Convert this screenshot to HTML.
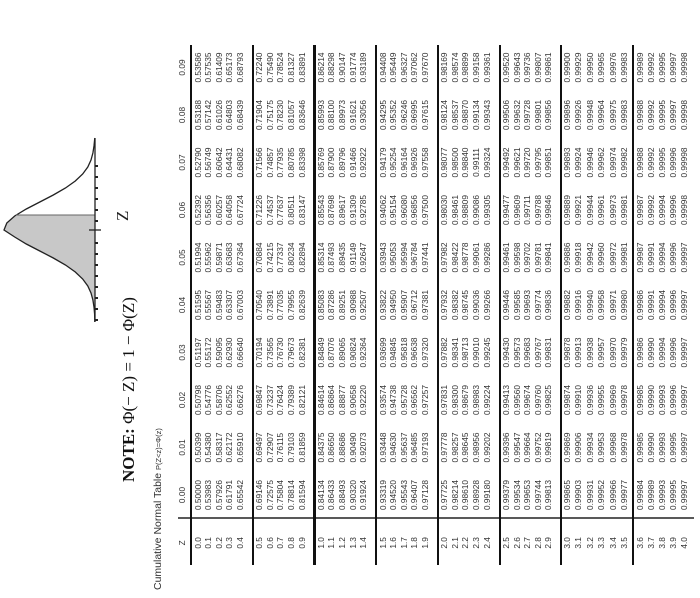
<!DOCTYPE html>
<html><head><meta charset="utf-8"><style>
html,body{margin:0;padding:0;background:#fff;}
body{width:700px;height:598px;overflow:hidden;position:relative;}
#f{position:absolute;left:0;top:0;width:598px;height:700px;transform-origin:0 0;transform:translate(0,598px) rotate(-90deg);}
.g{position:absolute;left:31px;width:560px;}
.r{height:10.6px;line-height:10.6px;white-space:nowrap;font:8.3px "Liberation Sans",sans-serif;color:#333;}
.g6 .r{height:11.5px;line-height:11.5px;}
.g7 .r{height:11px;line-height:11px;}
.r b,.r i{display:inline-block;font-weight:normal;font-style:normal;text-align:center;}
.r b{width:48.25px;}
.r i{width:47.5px;}
.hl{position:absolute;left:33px;width:520px;height:2.4px;background:#111;}
</style></head><body>
<div id="f">
<svg style="position:absolute;left:0;top:0" width="598" height="700">
<polygon fill="#c8c8c8" points="276,95 284,94.6 291,94 298,92.9 305,91 312,87.8 319,82.7 326,75.3 333,65.5 340,53.3 347,39.8 354,26.3 361,14.7 368,4 375,6.8 383,16.2 383,95"/>
<polyline fill="none" stroke="#222" stroke-width="1.3" points="276,94.8 284,94.6 291,94 298,92.9 305,91 312,87.8 319,82.7 326,75.3 333,65.5 340,53.3 347,39.8 354,26.3 361,14.7 368,4 375,6.8 382,14.7 389,26.3 396,39.8 403,53.3 410,65.5 417,75.3 424,82.7 431,87.8 438,91 445,92.9 452,94 460,94.8"/>
<line x1="383" y1="16" x2="383" y2="95" stroke="#666" stroke-width="1"/>
<line x1="276" y1="95" x2="460" y2="95" stroke="#222" stroke-width="1.3"/>
<line x1="368" y1="89" x2="368" y2="101" stroke="#222" stroke-width="1.3"/>
<g fill="#222">
<rect x="277" y="95" width="2" height="3"/><rect x="288" y="95" width="2" height="3"/><rect x="299" y="95" width="2" height="3"/><rect x="310" y="95" width="2" height="3"/><rect x="321" y="95" width="2" height="3"/><rect x="332" y="95" width="2" height="3"/><rect x="343" y="95" width="2" height="3"/><rect x="354" y="95" width="2" height="3"/><rect x="376" y="95" width="2" height="3"/><rect x="387" y="95" width="2" height="3"/><rect x="398" y="95" width="2" height="3"/><rect x="409" y="95" width="2" height="3"/><rect x="420" y="95" width="2" height="3"/><rect x="431" y="95" width="2" height="3"/>
</g>
<text x="377" y="128" font-family="Liberation Serif,serif" font-size="17" fill="#222">Z</text>
<text x="116" y="134" font-family="Liberation Serif,serif" font-size="17" fill="#111"><tspan font-weight="bold">NOTE:</tspan> Φ(− Z) = 1 − Φ(Z)</text>
<text x="8" y="161" font-family="Liberation Sans,sans-serif" font-size="10.5" fill="#333">Cumulative Normal Table <tspan font-size="7.5">P(Z&lt;z)=Φ(z)</tspan></text>
<line x1="80" y1="178" x2="80" y2="694" stroke="#222" stroke-width="1.4"/>
</svg>
<div class="hl" style="top:190px"></div><div class="hl" style="top:251.7px"></div><div class="hl" style="top:313.4px"></div><div class="hl" style="top:375.1px"></div><div class="hl" style="top:436.8px"></div><div class="hl" style="top:498.5px"></div><div class="hl" style="top:559.5px"></div><div class="hl" style="top:632px"></div>
<div class="g" style="top:177px"><div class="r"><b>Z</b><i>0.00</i><i>0.01</i><i>0.02</i><i>0.03</i><i>0.04</i><i>0.05</i><i>0.06</i><i>0.07</i><i>0.08</i><i>0.09</i></div></div>
<div class="g" style="top:192.5px">
<div class="r"><b>0.0</b><i>0.50000</i><i>0.50399</i><i>0.50798</i><i>0.51197</i><i>0.51595</i><i>0.51994</i><i>0.52392</i><i>0.52790</i><i>0.53188</i><i>0.53586</i></div>
<div class="r"><b>0.1</b><i>0.53983</i><i>0.54380</i><i>0.54776</i><i>0.55172</i><i>0.55567</i><i>0.55962</i><i>0.56356</i><i>0.56749</i><i>0.57142</i><i>0.57535</i></div>
<div class="r"><b>0.2</b><i>0.57926</i><i>0.58317</i><i>0.58706</i><i>0.59095</i><i>0.59483</i><i>0.59871</i><i>0.60257</i><i>0.60642</i><i>0.61026</i><i>0.61409</i></div>
<div class="r"><b>0.3</b><i>0.61791</i><i>0.62172</i><i>0.62552</i><i>0.62930</i><i>0.63307</i><i>0.63683</i><i>0.64058</i><i>0.64431</i><i>0.64803</i><i>0.65173</i></div>
<div class="r"><b>0.4</b><i>0.65542</i><i>0.65910</i><i>0.66276</i><i>0.66640</i><i>0.67003</i><i>0.67364</i><i>0.67724</i><i>0.68082</i><i>0.68439</i><i>0.68793</i></div>
</div>
<div class="g" style="top:254.2px">
<div class="r"><b>0.5</b><i>0.69146</i><i>0.69497</i><i>0.69847</i><i>0.70194</i><i>0.70540</i><i>0.70884</i><i>0.71226</i><i>0.71566</i><i>0.71904</i><i>0.72240</i></div>
<div class="r"><b>0.6</b><i>0.72575</i><i>0.72907</i><i>0.73237</i><i>0.73565</i><i>0.73891</i><i>0.74215</i><i>0.74537</i><i>0.74857</i><i>0.75175</i><i>0.75490</i></div>
<div class="r"><b>0.7</b><i>0.75804</i><i>0.76115</i><i>0.76424</i><i>0.76730</i><i>0.77035</i><i>0.77337</i><i>0.77637</i><i>0.77935</i><i>0.78230</i><i>0.78524</i></div>
<div class="r"><b>0.8</b><i>0.78814</i><i>0.79103</i><i>0.79389</i><i>0.79673</i><i>0.79955</i><i>0.80234</i><i>0.80511</i><i>0.80785</i><i>0.81057</i><i>0.81327</i></div>
<div class="r"><b>0.9</b><i>0.81594</i><i>0.81859</i><i>0.82121</i><i>0.82381</i><i>0.82639</i><i>0.82894</i><i>0.83147</i><i>0.83398</i><i>0.83646</i><i>0.83891</i></div>
</div>
<div class="g" style="top:315.9px">
<div class="r"><b>1.0</b><i>0.84134</i><i>0.84375</i><i>0.84614</i><i>0.84849</i><i>0.85083</i><i>0.85314</i><i>0.85543</i><i>0.85769</i><i>0.85993</i><i>0.86214</i></div>
<div class="r"><b>1.1</b><i>0.86433</i><i>0.86650</i><i>0.86864</i><i>0.87076</i><i>0.87286</i><i>0.87493</i><i>0.87698</i><i>0.87900</i><i>0.88100</i><i>0.88298</i></div>
<div class="r"><b>1.2</b><i>0.88493</i><i>0.88686</i><i>0.88877</i><i>0.89065</i><i>0.89251</i><i>0.89435</i><i>0.89617</i><i>0.89796</i><i>0.89973</i><i>0.90147</i></div>
<div class="r"><b>1.3</b><i>0.90320</i><i>0.90490</i><i>0.90658</i><i>0.90824</i><i>0.90988</i><i>0.91149</i><i>0.91309</i><i>0.91466</i><i>0.91621</i><i>0.91774</i></div>
<div class="r"><b>1.4</b><i>0.91924</i><i>0.92073</i><i>0.92220</i><i>0.92364</i><i>0.92507</i><i>0.92647</i><i>0.92785</i><i>0.92922</i><i>0.93056</i><i>0.93189</i></div>
</div>
<div class="g" style="top:377.6px">
<div class="r"><b>1.5</b><i>0.93319</i><i>0.93448</i><i>0.93574</i><i>0.93699</i><i>0.93822</i><i>0.93943</i><i>0.94062</i><i>0.94179</i><i>0.94295</i><i>0.94408</i></div>
<div class="r"><b>1.6</b><i>0.94520</i><i>0.94630</i><i>0.94738</i><i>0.94845</i><i>0.94950</i><i>0.95053</i><i>0.95154</i><i>0.95254</i><i>0.95352</i><i>0.95449</i></div>
<div class="r"><b>1.7</b><i>0.95543</i><i>0.95637</i><i>0.95728</i><i>0.95818</i><i>0.95907</i><i>0.95994</i><i>0.96080</i><i>0.96164</i><i>0.96246</i><i>0.96327</i></div>
<div class="r"><b>1.8</b><i>0.96407</i><i>0.96485</i><i>0.96562</i><i>0.96638</i><i>0.96712</i><i>0.96784</i><i>0.96856</i><i>0.96926</i><i>0.96995</i><i>0.97062</i></div>
<div class="r"><b>1.9</b><i>0.97128</i><i>0.97193</i><i>0.97257</i><i>0.97320</i><i>0.97381</i><i>0.97441</i><i>0.97500</i><i>0.97558</i><i>0.97615</i><i>0.97670</i></div>
</div>
<div class="g" style="top:439.3px">
<div class="r"><b>2.0</b><i>0.97725</i><i>0.97778</i><i>0.97831</i><i>0.97882</i><i>0.97932</i><i>0.97982</i><i>0.98030</i><i>0.98077</i><i>0.98124</i><i>0.98169</i></div>
<div class="r"><b>2.1</b><i>0.98214</i><i>0.98257</i><i>0.98300</i><i>0.98341</i><i>0.98382</i><i>0.98422</i><i>0.98461</i><i>0.98500</i><i>0.98537</i><i>0.98574</i></div>
<div class="r"><b>2.2</b><i>0.98610</i><i>0.98645</i><i>0.98679</i><i>0.98713</i><i>0.98745</i><i>0.98778</i><i>0.98809</i><i>0.98840</i><i>0.98870</i><i>0.98899</i></div>
<div class="r"><b>2.3</b><i>0.98928</i><i>0.98956</i><i>0.98983</i><i>0.99010</i><i>0.99036</i><i>0.99061</i><i>0.99086</i><i>0.99111</i><i>0.99134</i><i>0.99158</i></div>
<div class="r"><b>2.4</b><i>0.99180</i><i>0.99202</i><i>0.99224</i><i>0.99245</i><i>0.99266</i><i>0.99286</i><i>0.99305</i><i>0.99324</i><i>0.99343</i><i>0.99361</i></div>
</div>
<div class="g" style="top:501px">
<div class="r"><b>2.5</b><i>0.99379</i><i>0.99396</i><i>0.99413</i><i>0.99430</i><i>0.99446</i><i>0.99461</i><i>0.99477</i><i>0.99492</i><i>0.99506</i><i>0.99520</i></div>
<div class="r"><b>2.6</b><i>0.99534</i><i>0.99547</i><i>0.99560</i><i>0.99573</i><i>0.99585</i><i>0.99598</i><i>0.99609</i><i>0.99621</i><i>0.99632</i><i>0.99643</i></div>
<div class="r"><b>2.7</b><i>0.99653</i><i>0.99664</i><i>0.99674</i><i>0.99683</i><i>0.99693</i><i>0.99702</i><i>0.99711</i><i>0.99720</i><i>0.99728</i><i>0.99736</i></div>
<div class="r"><b>2.8</b><i>0.99744</i><i>0.99752</i><i>0.99760</i><i>0.99767</i><i>0.99774</i><i>0.99781</i><i>0.99788</i><i>0.99795</i><i>0.99801</i><i>0.99807</i></div>
<div class="r"><b>2.9</b><i>0.99813</i><i>0.99819</i><i>0.99825</i><i>0.99831</i><i>0.99836</i><i>0.99841</i><i>0.99846</i><i>0.99851</i><i>0.99856</i><i>0.99861</i></div>
</div>
<div class="g g6" style="top:561.5px">
<div class="r"><b>3.0</b><i>0.99865</i><i>0.99869</i><i>0.99874</i><i>0.99878</i><i>0.99882</i><i>0.99886</i><i>0.99889</i><i>0.99893</i><i>0.99896</i><i>0.99900</i></div>
<div class="r"><b>3.1</b><i>0.99903</i><i>0.99906</i><i>0.99910</i><i>0.99913</i><i>0.99916</i><i>0.99918</i><i>0.99921</i><i>0.99924</i><i>0.99926</i><i>0.99929</i></div>
<div class="r"><b>3.2</b><i>0.99931</i><i>0.99934</i><i>0.99936</i><i>0.99938</i><i>0.99940</i><i>0.99942</i><i>0.99944</i><i>0.99946</i><i>0.99948</i><i>0.99950</i></div>
<div class="r"><b>3.3</b><i>0.99952</i><i>0.99953</i><i>0.99955</i><i>0.99957</i><i>0.99958</i><i>0.99960</i><i>0.99961</i><i>0.99962</i><i>0.99964</i><i>0.99965</i></div>
<div class="r"><b>3.4</b><i>0.99966</i><i>0.99968</i><i>0.99969</i><i>0.99970</i><i>0.99971</i><i>0.99972</i><i>0.99973</i><i>0.99974</i><i>0.99975</i><i>0.99976</i></div>
<div class="r"><b>3.5</b><i>0.99977</i><i>0.99978</i><i>0.99978</i><i>0.99979</i><i>0.99980</i><i>0.99981</i><i>0.99981</i><i>0.99982</i><i>0.99983</i><i>0.99983</i></div>
</div>
<div class="g g7" style="top:634.5px">
<div class="r"><b>3.6</b><i>0.99984</i><i>0.99985</i><i>0.99985</i><i>0.99986</i><i>0.99986</i><i>0.99987</i><i>0.99987</i><i>0.99988</i><i>0.99988</i><i>0.99989</i></div>
<div class="r"><b>3.7</b><i>0.99989</i><i>0.99990</i><i>0.99990</i><i>0.99990</i><i>0.99991</i><i>0.99991</i><i>0.99992</i><i>0.99992</i><i>0.99992</i><i>0.99992</i></div>
<div class="r"><b>3.8</b><i>0.99993</i><i>0.99993</i><i>0.99993</i><i>0.99994</i><i>0.99994</i><i>0.99994</i><i>0.99994</i><i>0.99995</i><i>0.99995</i><i>0.99995</i></div>
<div class="r"><b>3.9</b><i>0.99995</i><i>0.99995</i><i>0.99996</i><i>0.99996</i><i>0.99996</i><i>0.99996</i><i>0.99996</i><i>0.99996</i><i>0.99997</i><i>0.99997</i></div>
<div class="r"><b>4.0</b><i>0.99997</i><i>0.99997</i><i>0.99997</i><i>0.99997</i><i>0.99997</i><i>0.99997</i><i>0.99998</i><i>0.99998</i><i>0.99998</i><i>0.99998</i></div>
</div>
</div>
</body></html>
